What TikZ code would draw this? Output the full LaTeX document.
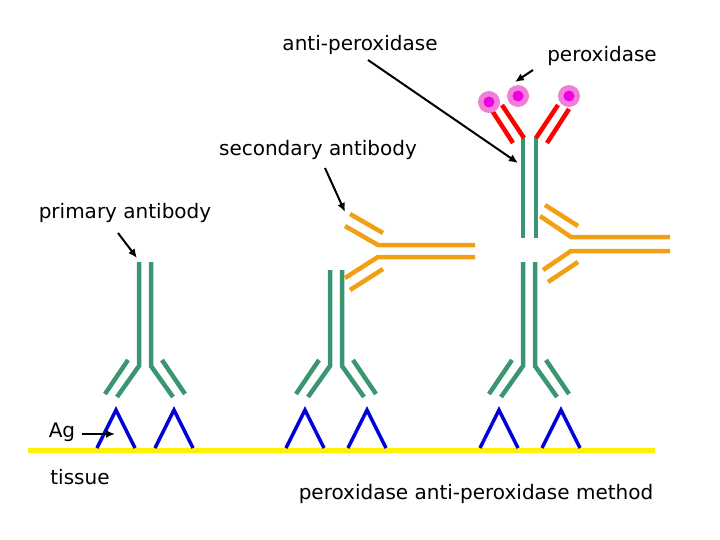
\documentclass[tikz,border=0pt]{standalone}
\usepackage{fontspec}
\setmainfont{DejaVu Sans}
\begin{document}
\begin{tikzpicture}[x=1pt,y=-1pt,
 gr/.style={draw=abg,line width=4.5pt},
 og/.style={draw=abo,line width=4.5pt},
 rd/.style={draw=red,line width=4.5pt},
 ag/.style={draw=blue!85!black,line width=3.5pt},
 lbl/.style={font=\fontsize{20}{24}\selectfont,inner sep=0pt},
 ar/.style={-{Latex[length=9pt,width=8pt]},line width=2pt,black}]
\usetikzlibrary{arrows.meta}
\definecolor{abg}{HTML}{3A9670}
\definecolor{abo}{HTML}{F2A013}
\definecolor{pk}{HTML}{F07FD8}
\definecolor{mg}{HTML}{F000E0}
\useasboundingbox (0,0) rectangle (720,540);
\draw[draw=yellow,line width=5pt] (28,450) -- (655,450);
% antigens
\foreach \c in {116,174,305,367,499,561}{
 \draw[ag] (\c-19,448) -- (\c,410) -- (\c+19,448);}
% primary antibodies
\foreach \c/\t in {145/262,336/270,529/262}{
 \draw[gr] (\c-6,\t) -- (\c-6,366) -- (\c-28,397);
 \draw[gr] (\c+6,\t) -- (\c+6,366) -- (\c+28,397);
 \draw[gr] (\c-17,360) -- (\c-40,394);
 \draw[gr] (\c+17,360) -- (\c+40,394);}
% secondary antibodies
\draw[og] (475,245) -- (378,245) -- (345,226);
\draw[og] (475,257) -- (378,257) -- (345,278);
\draw[og] (350,214) -- (383,233);
\draw[og] (350,290) -- (383,269);
\draw[og] (670,237) -- (571,237) -- (540,216);
\draw[og] (670,251) -- (571,251) -- (543,270);
\draw[og] (545,205) -- (578,226);
\draw[og] (548,282) -- (578,262);
% anti-peroxidase
\draw[gr] (523,238) -- (523,137);
\draw[gr] (536,238) -- (536,137);
\draw[rd] (524,138) -- (502,105);
\draw[rd] (513,143) -- (491,109);
\draw[rd] (536,138) -- (558,105);
\draw[rd] (547,143) -- (569,109);
\foreach \x/\y in {489/102,518/96,569/96}{
 \fill[pk] (\x,\y) circle (11);
 \fill[mg] (\x,\y) circle (5.5);}
% labels
\node[lbl] (lap) at (360,45) {anti-peroxidase};
\node[lbl] (lp) at (602,56) {peroxidase};
\node[lbl] (lsa) at (318,150) {secondary antibody};
\node[lbl] (lpa) at (125,213) {primary antibody};
\node[lbl] (lag) at (62,432) {Ag};
\node[lbl] (lt) at (80,477) {tissue};
\node[lbl] (lm) at (476,494) {peroxidase anti-peroxidase method};
\coordinate (e1) at (137,258);
\coordinate (e2) at (345,212);
\coordinate (e3) at (518,163);
\coordinate (e4) at (515,82);
\coordinate (e5) at (115,434);
\draw[ar] (118,233) -- (e1);
\draw[ar] (325,168) -- (e2);
\draw[ar] (368,60) -- (e3);
\draw[ar] (533,70) -- (e4);
\draw[ar] (82,434) -- (e5);
\end{tikzpicture}
\end{document}
